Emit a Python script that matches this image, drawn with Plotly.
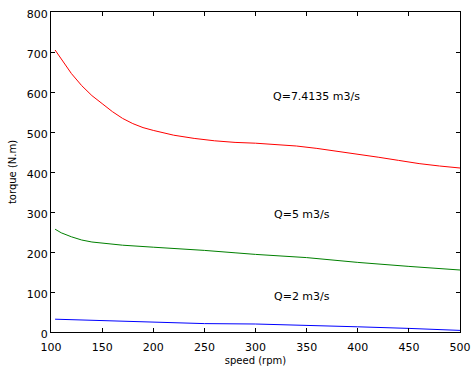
import plotly.graph_objects as go

red_x = [104, 110, 120, 130, 140, 150, 160, 170, 180, 190, 200, 220, 240, 260, 280, 300, 320, 340, 360, 380, 400, 420, 440, 460, 480, 500]
red_y = [705, 682, 646, 616, 591, 571, 551, 534, 521, 511, 504, 492, 484, 478, 474, 472, 469, 465, 459, 452, 444, 437, 429, 421, 415, 410]

green_x = [104, 110, 120, 130, 140, 150, 170, 200, 230, 250, 280, 300, 350, 400, 450, 500]
green_y = [257, 248, 238, 230, 225, 222, 217, 212, 208, 204, 198, 194, 186, 174, 164, 155]

blue_x = [104, 150, 200, 250, 300, 350, 400, 450, 500]
blue_y = [32, 28, 24, 21, 20, 17, 13, 9, 4]

labels = ["Q=7.4135 m3/s", "Q=5 m3/s", "Q=2 m3/s"]
label_x = [315, 316, 316]
label_y = [588, 294, 90]

x_ticks = [100, 150, 200, 250, 300, 350, 400, 450, 500]
y_ticks = [0, 100, 200, 300, 400, 500, 600, 700, 800]

FONT = "DejaVu Sans"

fig = go.Figure()
fig.add_trace(go.Scatter(x=red_x, y=red_y, mode="lines", line=dict(color="rgb(255,0,0)", width=1)))
fig.add_trace(go.Scatter(x=green_x, y=green_y, mode="lines", line=dict(color="rgb(0,128,0)", width=1)))
fig.add_trace(go.Scatter(x=blue_x, y=blue_y, mode="lines", line=dict(color="rgb(0,0,255)", width=1)))

for t, x, y in zip(labels, label_x, label_y):
    fig.add_annotation(x=x, y=y, text=t, showarrow=False, xanchor="left", yanchor="middle",
                       font=dict(family=FONT, size=11, color="black"))

axis_common = dict(showgrid=False, zeroline=False, showline=True, linecolor="black", linewidth=1,
                   mirror="ticks", ticks="inside", ticklen=4, tickcolor="black", automargin=False,
                   tickfont=dict(family=FONT, size=11, color="black"))

fig.update_xaxes(range=[100, 500], tickvals=x_ticks, ticklabelstandoff=5,
                 title=dict(text="speed (rpm)", font=dict(family=FONT, size=10, color="black"), standoff=3), **axis_common)
fig.update_yaxes(range=[0, 800], tickvals=y_ticks, ticklabelshift=2,
                 title=dict(text="torque (N.m)", font=dict(family=FONT, size=10, color="black"), standoff=8), **axis_common)

fig.update_layout(width=474, height=376, margin=dict(l=51, r=14, t=12, b=44),
                  paper_bgcolor="white", plot_bgcolor="white", showlegend=False)

fig.write_html("out.html", config={"displayModeBar": False},
               post_script="document.body.style.margin='0';document.body.style.padding='0';")
